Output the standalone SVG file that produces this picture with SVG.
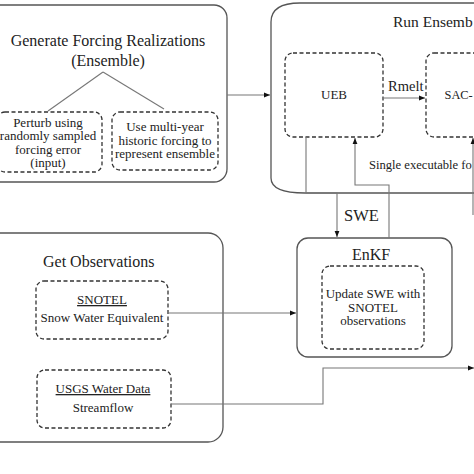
<svg xmlns="http://www.w3.org/2000/svg" width="474" height="474" viewBox="0 0 474 474">
<defs>
<style>
.box{fill:#fff;stroke:#555;stroke-width:1.3}
.dash{fill:none;stroke:#333;stroke-width:1.3;stroke-dasharray:4 2.5}
.ln{fill:none;stroke:#777;stroke-width:1.1}
.t{font-family:"Liberation Serif","Times New Roman",serif;fill:#222}
.big{font-size:16px}
.sm{font-size:13px}
.mid{text-anchor:middle}
</style>
<marker id="ah" viewBox="0 0 10 10" refX="10" refY="5" markerWidth="6" markerHeight="6" markerUnits="userSpaceOnUse" orient="auto">
<path d="M0,1 L10,5 L0,9 z" fill="#111"/>
</marker>
</defs>
<rect width="474" height="474" fill="#fff"/>

<g id="generate">
<rect class="box" x="-20" y="5" width="247" height="177" rx="13"/>
<text class="t big mid" x="108" y="46">Generate Forcing Realizations</text>
<text class="t big mid" x="108" y="66">(Ensemble)</text>
</g>
<g id="perturb">
<rect class="dash" x="-3" y="112" width="105" height="60" rx="8"/>
<text class="t sm mid" x="48" y="126.5">Perturb using</text>
<text class="t sm mid" x="48" y="140">randomly sampled</text>
<text class="t sm mid" x="48" y="153.5">forcing error</text>
<text class="t sm mid" x="48" y="167">(input)</text>
</g>
<g id="historic">
<rect class="dash" x="112" y="112" width="106" height="58" rx="8"/>
<text class="t sm mid" x="165" y="131">Use multi-year</text>
<text class="t sm mid" x="165" y="144.5">historic forcing to</text>
<text class="t sm mid" x="165" y="158">represent ensemble</text>
</g>

<g id="run">
<path class="box" d="M490,3 L300,3 Q271,3 271,22 L271,178 Q271,193 305,193 L490,193"/>
<text class="t" x="393" y="27" font-size="15.5">Run Ensemb</text>
<text class="t" x="369" y="169" font-size="12.6">Single executable fo</text>
</g>
<g id="ueb">
<rect class="dash" x="285" y="53" width="98" height="84" rx="8"/>
<text class="t sm mid" x="334" y="99">UEB</text>
</g>
<g id="sac">
<rect class="dash" x="426" y="53" width="80" height="84" rx="8"/>
<text class="t" x="444.5" y="99" font-size="12.4">SAC-</text>
</g>

<g id="obs">
<rect class="box" x="-20" y="233" width="243" height="209" rx="15"/>
<text class="t big" x="43" y="266.5">Get Observations</text>
</g>
<g id="snotel">
<rect class="dash" x="36" y="281" width="132" height="58" rx="8"/>
<text class="t sm mid" x="102" y="304" text-decoration="underline">SNOTEL</text>
<text class="t sm mid" x="102" y="322">Snow Water Equivalent</text>
</g>
<g id="usgs">
<rect class="dash" x="37" y="370" width="134" height="58" rx="8"/>
<text class="t sm mid" x="103" y="393" text-decoration="underline">USGS Water Data</text>
<text class="t sm mid" x="103" y="411.5">Streamflow</text>
</g>

<g id="enkf">
<rect class="box" x="297" y="238" width="155" height="119" rx="11"/>
<text class="t big mid" x="371" y="260">EnKF</text>
</g>
<g id="update">
<rect class="dash" x="322" y="266" width="102" height="83" rx="8"/>
<text class="t sm mid" x="373" y="298">Update SWE with</text>
<text class="t sm mid" x="373" y="311.5">SNOTEL</text>
<text class="t sm mid" x="373" y="325">observations</text>
</g>

<g id="connectors">
<path class="ln" d="M103,72 L48,111"/>
<path class="ln" d="M103,72 L164,109"/>
<path class="ln" d="M227,95 L270,95" marker-end="url(#ah)"/>
<path class="ln" d="M384,98 L425,98" marker-end="url(#ah)"/>
<path class="ln" d="M306,137 L306,193 L337,193 L337,237" marker-end="url(#ah)"/>
<path class="ln" d="M389,238 L389,185 L355,185 L355,138" marker-end="url(#ah)"/>
<path class="ln" d="M168,313 L296,313" marker-end="url(#ah)"/>
<path class="ln" d="M171,404 L323,404 L323,368 L474,368" marker-end="url(#ah)"/>
<path class="ln" d="M473,215 L473,138" marker-end="url(#ah)"/>
<text class="t" x="388" y="90.5" font-size="14.5">Rmelt</text>
<text class="t" x="344" y="221" font-size="16.5">SWE</text>
</g>
</svg>
